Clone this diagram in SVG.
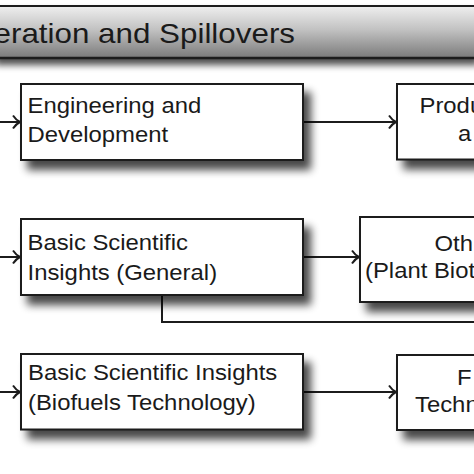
<svg xmlns="http://www.w3.org/2000/svg" width="474" height="474" viewBox="0 0 474 474">
<style>
.box{fill:#ffffff;stroke:#1c1c1c;stroke-width:2}
.lbl{font-family:"Liberation Sans",Arial,sans-serif;font-size:22px;fill:#1a1a1a}
.hdr{font-family:"Liberation Sans",Arial,sans-serif;font-size:28px;fill:#1a1a1a}
.con{fill:none;stroke:#1c1c1c;stroke-width:2}
</style>
<defs>
<linearGradient id="hg" x1="0" y1="0" x2="0" y2="1">
<stop offset="0" stop-color="#efefef"/>
<stop offset="0.45" stop-color="#c2c2c2"/>
<stop offset="1" stop-color="#7a7a7a"/>
</linearGradient>
<filter id="sh" x="-20%" y="-20%" width="150%" height="170%">
<feGaussianBlur in="SourceAlpha" stdDeviation="4.5"/>
<feOffset dx="7" dy="9" result="b"/>
<feComponentTransfer><feFuncA type="linear" slope="0.72"/></feComponentTransfer>
<feMerge><feMergeNode/><feMergeNode in="SourceGraphic"/></feMerge>
</filter>
<filter id="hsh" x="-5%" y="-20%" width="110%" height="170%">
<feGaussianBlur in="SourceAlpha" stdDeviation="3.5"/>
<feOffset dx="0" dy="6"/>
<feComponentTransfer><feFuncA type="linear" slope="0.7"/></feComponentTransfer>
<feMerge><feMergeNode/><feMergeNode in="SourceGraphic"/></feMerge>
</filter>
<marker id="ah" markerUnits="userSpaceOnUse" markerWidth="12" markerHeight="16" refX="9" refY="8" orient="auto">
<path d="M2,1.5 Q5,6 9,8 Q5,10 2,14.5" fill="none" stroke="#1c1c1c" stroke-width="2"/>
</marker>
</defs>
<rect width="474" height="474" fill="#ffffff"/>
<g id="header">
<rect x="-4" y="6" width="482" height="52" fill="url(#hg)" stroke="#1c1c1c" stroke-width="2" filter="url(#hsh)"/>
<line x1="-4" y1="58" x2="478" y2="58" stroke="#1c1c1c" stroke-width="2.5"/>
<text class="hdr" transform="translate(-6.5,42.5) scale(1.12,1)">eration and Spillovers</text>
</g>
<g id="connectors">
<path class="con" d="M0,122 H20" marker-end="url(#ah)"/>
<path class="con" d="M303,122 H396" marker-end="url(#ah)"/>
<path class="con" d="M0,257 H20" marker-end="url(#ah)"/>
<path class="con" d="M303,257 H359" marker-end="url(#ah)"/>
<path class="con" d="M162,295 V322 H476"/>
<path class="con" d="M0,392 H20" marker-end="url(#ah)"/>
<path class="con" d="M303,392 H396" marker-end="url(#ah)"/>
</g>
<g id="engineering">
<rect class="box" x="21" y="84" width="282" height="76" filter="url(#sh)"/>
<text class="lbl" transform="translate(27.5,113) scale(1.085,1)">Engineering and</text>
<text class="lbl" transform="translate(27.5,141.5) scale(1.085,1)">Development</text>
</g>
<g id="products">
<rect class="box" x="397" y="84" width="120" height="75.5" filter="url(#sh)"/>
<text class="lbl" transform="translate(419.5,112.5) scale(1.085,1)">Produ</text>
<text class="lbl" transform="translate(458,141) scale(1.085,1)">a</text>
</g>
<g id="basic-general">
<rect class="box" x="21" y="219" width="282" height="76" filter="url(#sh)"/>
<text class="lbl" transform="translate(27.5,249.5) scale(1.085,1)">Basic Scientific</text>
<text class="lbl" transform="translate(27.5,279.5) scale(1.085,1)">Insights (General)</text>
</g>
<g id="other">
<rect class="box" x="360" y="217" width="160" height="85" filter="url(#sh)"/>
<text class="lbl" transform="translate(434.5,250.5) scale(1.085,1)">Oth</text>
<text class="lbl" transform="translate(365,277.5) scale(1.085,1)">(Plant Biot</text>
</g>
<g id="basic-biofuels">
<rect class="box" x="21" y="354" width="282" height="75.5" filter="url(#sh)"/>
<text class="lbl" transform="translate(28,380) scale(1.085,1)">Basic Scientific Insights</text>
<text class="lbl" transform="translate(28,410) scale(1.085,1)">(Biofuels Technology)</text>
</g>
<g id="fuels">
<rect class="box" x="397" y="355" width="120" height="75" filter="url(#sh)"/>
<text class="lbl" transform="translate(457,385) scale(1.085,1)">F</text>
<text class="lbl" transform="translate(415,412) scale(1.085,1)">Techn</text>
</g>
</svg>
